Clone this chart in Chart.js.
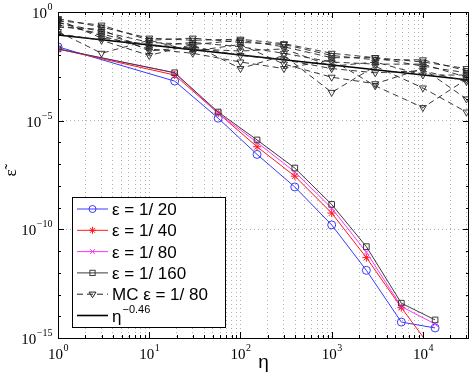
<!DOCTYPE html>
<html>
<head>
<meta charset="utf-8">
<script src="https://cdn.jsdelivr.net/npm/chart.js@4.4.0/dist/chart.umd.min.js"></script>
<style>
html, body { margin: 0; padding: 0; background: #fff; }
#wrap { width: 474px; height: 374px; }
</style>
</head>
<body>
<div id="wrap"><canvas id="chart"></canvas></div>
<script>
// deterministic runs, eta values and error per epsilon
const etaDet = [1, 19, 57, 152, 394, 1000, 2400, 5800, 13600];
const err20  = [2.5e-2, 6.6e-4, 1.3e-5, 2.8e-7, 8.9e-9, 1.6e-10, 1.3e-12, 5.4e-15, 2.9e-15];
const err40  = [2.0e-2, 1.26e-3, 2.2e-5, 6.3e-7, 2.8e-8, 5.6e-10, 5.0e-12, 2.5e-14, 2.0e-16];
const err80  = [2.0e-2, 1.6e-3, 2.2e-5, 1.0e-6, 4.4e-8, 9.5e-10, 8.9e-12, 2.8e-14, 4.4e-15];
const err160 = [2.0e-2, 1.6e-3, 2.5e-5, 1.3e-6, 6.6e-8, 1.4e-9, 1.6e-11, 4.0e-14, 6.8e-15];

// Monte Carlo realisations, eps = 1/80
const etaMC = [1, 3, 10, 30, 100, 300, 1000, 3000, 10000, 30000];
const mc1 = [0.5, 0.2, 0.063, 0.05, 0.056, 0.035, 0.0126, 0.0079, 0.005, 0.0025];
const mc2 = [0.4, 0.25, 0.05, 0.063, 0.04, 0.032, 0.01, 0.0063, 0.0063, 0.002];
const mc3 = [0.32, 0.126, 0.04, 0.032, 0.05, 0.025, 0.0079, 0.0079, 0.0032, 0.0016];
const mc4 = [0.25, 0.1, 0.025, 0.04, 0.025, 0.0126, 0.005, 0.004, 0.004, 0.001];
const mc5 = [0.45, 0.063, 0.032, 0.02, 0.016, 0.02, 0.0032, 0.005, 0.00126, 0.00126];
const mc6 = [0.2, 0.16, 0.016, 0.025, 0.01, 0.0063, 0.0025, 0.0016, 0.002, 0.00063];
const mc7 = [0.126, 0.0126, 0.05, 0.016, 0.032, 0.004, 0.001, 0.0005, 0.0025, 0.0001];
const mc8 = [0.1, 0.05, 0.01, 0.032, 0.0025, 0.01, 0.0002, 0.0032, 0.00032, 0.000025];
const mc9 = [0.35, 0.08, 0.02, 0.0126, 0.005, 0.0025, 0.0063, 0.0004, 0.00004, 0.0008];
const mcRuns = [mc1, mc2, mc3, mc4, mc5, mc6, mc7, mc8, mc9];

// fitted slope line eta^-0.46
const etaFit = [1, 32000];
const fitVals = [0.087, 0.00074];

// axis ticks
const xDecades = [1, 10, 100, 1000, 10000];
const xExp = ['0', '1', '2', '3', '4'];
const yDecades = [1, 1e-5, 1e-10, 1e-15];
const yExp = ['0', '\u22125', '\u221210', '\u221215'];

const xGrid = [];
for (const d of [1, 10, 100, 1000, 10000]) {
    for (let k = 1; k <= 9; k++) {
        if (d * k <= 32000) xGrid.push(d * k);
    }
}
const yMinor = [];
for (let e = 0; e >= -15; e--) yMinor.push(Math.pow(10, e));

const pts = (xs, ys) => xs.map((x, i) => ({ x: x, y: ys[i] }));

const BLUE = '#3a3aff', RED = '#ff1a1a', MAG = '#ff33ff', GRAY = '#3c3c3c';

const detStyle = (label, data, color, style) => ({
    label: label,
    data: pts(etaDet, data),
    borderColor: color,
    backgroundColor: style === 'star' || style === 'crossRot' ? color : 'rgba(0,0,0,0)',
    pointBorderColor: color,
    borderWidth: 1,
    pointStyle: style,
    pointRadius: 4,
    pointBorderWidth: 1,
    tension: 0
});

const datasets = [];
mcRuns.forEach((run, i) => {
    datasets.push({
        label: 'MC ' + (i + 1),
        data: pts(etaMC, run),
        borderColor: '#222',
        backgroundColor: 'rgba(0,0,0,0)',
        borderWidth: 0.9,
        borderDash: [6, 4],
        pointStyle: 'triangle',
        rotation: 180,
        pointRadius: 4,
        pointBorderWidth: 0.9,
        pointBorderColor: '#222'
    });
});
datasets.push({
    label: 'fit',
    data: pts(etaFit, fitVals),
    borderColor: '#000',
    borderWidth: 1.6,
    pointRadius: 0
});
datasets.push(detStyle('1/160', err160, GRAY, 'rect'));
datasets.push(detStyle('1/80', err80, MAG, 'crossRot'));
datasets.push(detStyle('1/40', err40, RED, 'star'));
datasets.push(detStyle('1/20', err20, BLUE, 'circle'));

function marker(ctx, style, x, y, r, color) {
    ctx.save();
    ctx.strokeStyle = color;
    ctx.fillStyle = color;
    ctx.lineWidth = 1;
    ctx.beginPath();
    if (style === 'circle') {
        ctx.arc(x, y, r, 0, Math.PI * 2);
        ctx.stroke();
    } else if (style === 'rect') {
        ctx.strokeRect(x - r * 0.75, y - r * 0.75, r * 1.5, r * 1.5);
    } else if (style === 'crossRot') {
        ctx.moveTo(x - r * 0.7, y - r * 0.7); ctx.lineTo(x + r * 0.7, y + r * 0.7);
        ctx.moveTo(x + r * 0.7, y - r * 0.7); ctx.lineTo(x - r * 0.7, y + r * 0.7);
        ctx.stroke();
    } else if (style === 'star') {
        for (let a = 0; a < 4; a++) {
            const t = a * Math.PI / 4;
            ctx.moveTo(x - r * Math.cos(t), y - r * Math.sin(t));
            ctx.lineTo(x + r * Math.cos(t), y + r * Math.sin(t));
        }
        ctx.stroke();
    } else if (style === 'triDown') {
        ctx.moveTo(x - r, y - r * 0.6);
        ctx.lineTo(x + r, y - r * 0.6);
        ctx.lineTo(x, y + r);
        ctx.closePath();
        ctx.stroke();
    }
    ctx.restore();
}

function powLabel(ctx, x, y, exp, align) {
    // "10" with a raised exponent; align: 'center' (x axis) or 'right' (y axis)
    ctx.font = '15px "Liberation Serif"';
    const wBase = ctx.measureText('10').width;
    ctx.font = '10px "Liberation Serif"';
    const wExp = ctx.measureText(exp).width;
    let x0;
    if (align === 'center') x0 = x - (wBase + wExp) / 2;
    else x0 = x - wBase - wExp;
    ctx.fillStyle = '#000';
    ctx.textAlign = 'left';
    ctx.textBaseline = 'alphabetic';
    ctx.font = '15px "Liberation Serif"';
    ctx.fillText('10', x0, y);
    ctx.font = '10px "Liberation Serif"';
    ctx.fillText(exp, x0 + wBase + 0.5, y - 8);
}

const decor = {
    id: 'decor',
    afterDraw(chart) {
        const ctx = chart.ctx;
        const a = chart.chartArea;
        const xs = chart.scales.x, ys = chart.scales.y;
        ctx.save();
        // inward tick marks
        ctx.strokeStyle = '#000';
        ctx.lineWidth = 1;
        ctx.beginPath();
        xGrid.forEach(v => {
            const px = Math.round(xs.getPixelForValue(v)) + 0.5;
            const len = xDecades.includes(v) ? 6 : 3;
            ctx.moveTo(px, a.bottom); ctx.lineTo(px, a.bottom - len);
            ctx.moveTo(px, a.top); ctx.lineTo(px, a.top + len);
        });
        yMinor.forEach(v => {
            const py = Math.round(ys.getPixelForValue(v)) + 0.5;
            const len = yDecades.includes(v) ? 6 : 3;
            ctx.moveTo(a.left, py); ctx.lineTo(a.left + len, py);
            ctx.moveTo(a.right, py); ctx.lineTo(a.right - len, py);
        });
        ctx.stroke();
        // frame
        ctx.strokeRect(a.left + 0.5, a.top + 0.5, a.right - a.left - 1, a.bottom - a.top);

        // tick labels
        xDecades.forEach((v, i) => powLabel(ctx, xs.getPixelForValue(v), a.bottom + 21, xExp[i], 'center'));
        yDecades.forEach((v, i) => powLabel(ctx, a.left - 6, ys.getPixelForValue(v) + 6, yExp[i], 'right'));

        // axis titles
        ctx.fillStyle = '#000';
        ctx.font = '19px "Liberation Sans"';
        ctx.textAlign = 'center';
        ctx.textBaseline = 'alphabetic';
        ctx.fillText('\u03b7', (a.left + a.right) / 2, 368);
        ctx.save();
        ctx.translate(16, (a.top + a.bottom) / 2 - 2);
        ctx.rotate(-Math.PI / 2);
        ctx.font = '17px "Liberation Serif"';
        ctx.fillText('\u03b5\u0303', 0, 0);
        ctx.restore();

        // legend box
        const L = 72, T = 197, R = 225, B = 327;
        ctx.fillStyle = '#fff';
        ctx.fillRect(L, T, R - L, B - T);
        ctx.strokeStyle = '#000';
        ctx.lineWidth = 1;
        ctx.strokeRect(L + 0.5, T + 0.5, R - L, B - T);
        const entries = [
            { text: '\u03b5 = 1/ 20', color: BLUE, style: 'circle' },
            { text: '\u03b5 = 1/ 40', color: RED, style: 'star' },
            { text: '\u03b5 = 1/ 80', color: MAG, style: 'crossRot' },
            { text: '\u03b5 = 1/ 160', color: GRAY, style: 'rect' },
            { text: 'MC \u03b5 = 1/ 80', color: '#222', style: 'triDown', dash: true },
            { text: '\u03b7', color: '#000', style: null, fit: true }
        ];
        entries.forEach((e, i) => {
            const cy = 209 + i * 21.3;
            ctx.save();
            ctx.strokeStyle = e.color;
            ctx.lineWidth = e.fit ? 1.6 : 1;
            if (e.dash) ctx.setLineDash([6, 4]);
            ctx.beginPath();
            ctx.moveTo(77, cy); ctx.lineTo(108, cy);
            ctx.stroke();
            ctx.restore();
            if (e.style) marker(ctx, e.style, 92.5, cy, 3.5, e.color);
            ctx.fillStyle = '#000';
            ctx.font = '17px "Liberation Sans"';
            ctx.textAlign = 'left';
            ctx.fillText(e.text, 112, cy + 6);
            if (e.fit) {
                const w = ctx.measureText(e.text).width;
                ctx.font = '11px "Liberation Sans"';
                ctx.fillText('\u22120.46', 112 + w + 1, cy - 3);
            }
        });
        ctx.restore();
    }
};

new Chart(document.getElementById('chart'), {
    type: 'line',
    data: { datasets: datasets },
    options: {
        responsive: true,
        maintainAspectRatio: false,
        animation: false,
        layout: { padding: { left: 0, right: 2, top: 12, bottom: 0 } },
        plugins: {
            legend: { display: false },
            tooltip: { enabled: false }
        },
        scales: {
            x: {
                type: 'logarithmic',
                min: 1,
                max: 32000,
                afterBuildTicks: s => { s.ticks = xGrid.map(v => ({ value: v })); },
                afterFit: s => { s.height = 36; },
                ticks: { display: false },
                grid: { color: '#b0b0b0', lineWidth: 1, drawTicks: false },
                border: { display: false, dash: [1, 3] }
            },
            y: {
                type: 'logarithmic',
                min: 1e-15,
                max: 1,
                afterBuildTicks: s => { s.ticks = yDecades.map(v => ({ value: v })); },
                afterFit: s => { s.width = 58; },
                ticks: { display: false },
                grid: { color: '#b0b0b0', lineWidth: 1, drawTicks: false },
                border: { display: false, dash: [1, 3] }
            }
        }
    },
    plugins: [decor]
});
</script>
</body>
</html>
